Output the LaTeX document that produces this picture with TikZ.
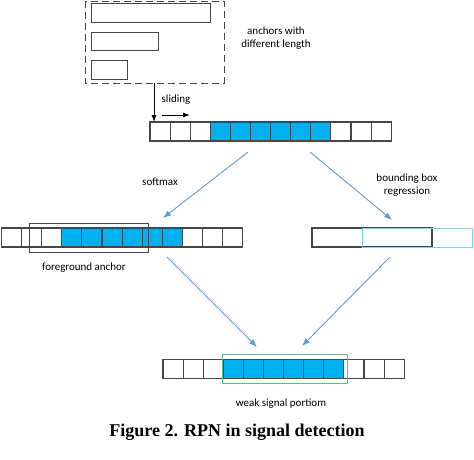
\documentclass[tikz,border=0pt]{standalone}
\usepackage{fontspec}
\setmainfont{Carlito}
\newfontfamily\capfont{Liberation Serif}
\usetikzlibrary{positioning,arrows,arrows.meta}
\definecolor{cellblue}{RGB}{0,176,240}
\definecolor{linkblue}{RGB}{91,155,213}
\definecolor{pale}{RGB}{120,210,235}
\definecolor{boxgreen}{RGB}{90,195,130}
\definecolor{edge}{RGB}{70,70,70}

\begin{document}
\begin{tikzpicture}[x=1pt,y=-1pt,
	cell/.style={draw=edge,line width=1.1pt,minimum width=20.1pt,minimum height=19pt,inner sep=0pt,outer sep=0pt},
	hot/.style={cell,fill=cellblue},
	bar/.style={draw=edge,line width=1pt,anchor=north west,inner sep=0pt,outer sep=0pt},
	lbl/.style={font=\fontsize{11}{13}\selectfont,align=center,inner sep=0pt},
	link/.style={draw=linkblue,line width=0.9pt,-{Latex[length=8pt,width=6pt]}}]
\useasboundingbox (0,0) rectangle (474,459);
\def\w{20.1}

% three rows of cells
\foreach \r/\x/\y in {t/150/131.5,m/1.5/237.5,b/163/369}{
	\foreach \i in {0,1,2,9,10,11}
		\node[cell] (\r\i) at (\x+\w/2+\i*\w,\y) {};
	\foreach \i in {3,...,8}
		\node[hot] (\r\i) at (\x+\w/2+\i*\w,\y) {};
}

% anchors
\draw[edge,line width=1pt,dash pattern=on 7pt off 4pt] (85,1) rectangle (224,83);
\node[bar,minimum width=119pt,minimum height=19pt] (a1) at (91,3) {};
\node[bar,minimum width=67pt,minimum height=18pt] (a2) at (91,32) {};
\node[bar,minimum width=36pt,minimum height=19pt] (a3) at (91,60) {};
\node[lbl] (anc) at (276,38) {anchors with\\different length};

\coordinate (drop) at (154,83);
\draw[black,line width=0.9pt,-{Latex[length=7pt,width=5pt]}] (drop)--(drop |- t0.north);
\node[lbl] (slide) at (176,100) {sliding};
\coordinate (s1) at (162,115);
\coordinate (s2) at (190,115);
\draw[black,line width=0.9pt,-{Latex[length=7pt,width=5pt]}] (s1)--(s2);

% middle
\node[lbl] (soft) at (160,182) {softmax};
\node[lbl] (reg) at (407,185) {bounding box\\regression};
\node[draw=edge,line width=0.8pt,minimum width=119pt,minimum height=29pt,inner sep=0pt] (fg) at (88.5,237.5) {};
\node[lbl] (fgl) at (84,268) {foreground anchor};
\node[cell,minimum width=120pt] (r1) at (372,237.5) {};
\node[draw=pale,line width=1pt,minimum width=110pt,minimum height=19pt,inner sep=0pt] (r2) at (417,237.5) {};

% bottom
\node[draw=boxgreen,line width=1pt,minimum width=125pt,minimum height=29pt,inner sep=0pt] (win) at (284.5,368.5) {};
\node[lbl] (winl) at (281,404) {weak signal portiom};

\foreach \n/\x/\y in {p1/248/152,p2/163/218,p3/310/152,p4/392/220,p5/167/257,p6/257/347,p7/390/257,p8/302/346}
	\coordinate (\n) at (\x,\y);
\foreach \a/\b in {p1/p2,p3/p4,p5/p6,p7/p8}
	\draw[link](\a)--(\b);

\node[font=\capfont\bfseries\fontsize{18}{21}\selectfont,inner sep=0pt] (cap) at (237,432) {Figure 2. RPN in signal detection};
\end{tikzpicture}
\end{document}
